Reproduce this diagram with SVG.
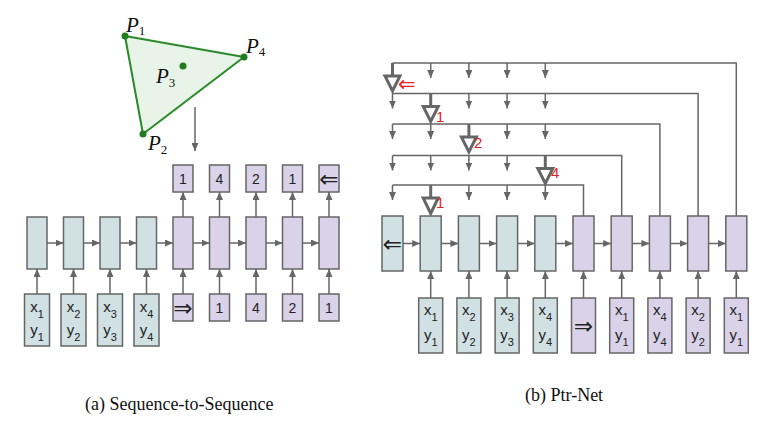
<svg xmlns="http://www.w3.org/2000/svg" width="767" height="424" viewBox="0 0 767 424">
<style>
.enc{fill:#d0e0e3;stroke:#666;stroke-width:1.5}
.dec{fill:#d9d2e9;stroke:#666;stroke-width:1.5}
.ln{stroke:#666;stroke-width:1.5;fill:none}
.arr{stroke:#666;stroke-width:1.5;fill:none;marker-end:url(#ah)}
.big{stroke:#666;stroke-width:3;fill:#fff;stroke-linejoin:miter}
.t{font-family:"Liberation Sans",Arial,sans-serif;font-size:14px;fill:#222;text-anchor:middle}
.v{font-family:"Liberation Sans",Arial,sans-serif;font-size:15px;fill:#222;text-anchor:middle}
.s{font-size:11px}
.sym{font-family:"DejaVu Sans",sans-serif;font-size:23px;fill:#222;text-anchor:middle}
.red{font-family:"Liberation Sans",Arial,sans-serif;font-size:15px;fill:#e3231f}
.redsym{font-family:"DejaVu Sans",sans-serif;font-size:21px;fill:#e3231f}
.p{font-family:"Liberation Serif","Times New Roman",serif;font-style:italic;font-size:21px;fill:#111}
.ps{font-style:normal;font-size:13px}
.cap{font-family:"Liberation Serif","Times New Roman",serif;font-size:18px;fill:#111}
</style>
<defs>
<marker id="ah" markerWidth="8" markerHeight="7" refX="8" refY="3.5" orient="auto" markerUnits="userSpaceOnUse"><path d="M0,0 L8,3.5 L0,7 Z" fill="#666"/></marker>
</defs>

<!-- (a) triangle -->
<g id="points">
<polygon points="125,36 244,57 143,134" fill="#e8f4e8" stroke="#2a8a2a" stroke-width="2" stroke-linejoin="round"/>
<circle cx="125" cy="36" r="3.5" fill="#1f7d1f"/>
<circle cx="244" cy="57" r="3.5" fill="#1f7d1f"/>
<circle cx="143" cy="134" r="3.5" fill="#1f7d1f"/>
<circle cx="183" cy="66" r="3.5" fill="#1f7d1f"/>
<text class="p" x="126" y="32">P<tspan class="ps" dy="3">1</tspan></text>
<text class="p" x="246" y="53">P<tspan class="ps" dy="3">4</tspan></text>
<text class="p" x="156" y="83">P<tspan class="ps" dy="4">3</tspan></text>
<text class="p" x="148" y="150">P<tspan class="ps" dy="4">2</tspan></text>
</g>

<!-- (a) Sequence-to-Sequence nodes -->
<g id="a-enc1"><rect class="enc" x="27" y="217" width="20" height="52"/><rect class="enc" x="24.5" y="294" width="25" height="52"/><text class="v" x="37" y="312">x<tspan class="s" dy="6">1</tspan></text><text class="v" x="37" y="335">y<tspan class="s" dy="6">1</tspan></text></g>
<g id="a-enc2"><rect class="enc" x="63.5" y="217" width="20" height="52"/><rect class="enc" x="61" y="294" width="25" height="52"/><text class="v" x="73.5" y="312">x<tspan class="s" dy="6">2</tspan></text><text class="v" x="73.5" y="335">y<tspan class="s" dy="6">2</tspan></text></g>
<g id="a-enc3"><rect class="enc" x="100" y="217" width="20" height="52"/><rect class="enc" x="97.5" y="294" width="25" height="52"/><text class="v" x="110" y="312">x<tspan class="s" dy="6">3</tspan></text><text class="v" x="110" y="335">y<tspan class="s" dy="6">3</tspan></text></g>
<g id="a-enc4"><rect class="enc" x="136.5" y="217" width="20" height="52"/><rect class="enc" x="134" y="294" width="25" height="52"/><text class="v" x="146.5" y="312">x<tspan class="s" dy="6">4</tspan></text><text class="v" x="146.5" y="335">y<tspan class="s" dy="6">4</tspan></text></g>
<g id="a-dec1"><rect class="dec" x="173" y="217" width="20" height="52"/><rect class="dec" x="173" y="294" width="20" height="27"/><text class="sym" x="183" y="315.5">⇒</text><rect class="dec" x="173" y="165" width="20" height="27"/><text class="t" x="183" y="183.5">1</text></g>
<g id="a-dec2"><rect class="dec" x="209.5" y="217" width="20" height="52"/><rect class="dec" x="209.5" y="294" width="20" height="27"/><text class="t" x="219.5" y="312.5">1</text><rect class="dec" x="209.5" y="165" width="20" height="27"/><text class="t" x="219.5" y="183.5">4</text></g>
<g id="a-dec3"><rect class="dec" x="246" y="217" width="20" height="52"/><rect class="dec" x="246" y="294" width="20" height="27"/><text class="t" x="256" y="312.5">4</text><rect class="dec" x="246" y="165" width="20" height="27"/><text class="t" x="256" y="183.5">2</text></g>
<g id="a-dec4"><rect class="dec" x="282.5" y="217" width="20" height="52"/><rect class="dec" x="282.5" y="294" width="20" height="27"/><text class="t" x="292.5" y="312.5">2</text><rect class="dec" x="282.5" y="165" width="20" height="27"/><text class="t" x="292.5" y="183.5">1</text></g>
<g id="a-dec5"><rect class="dec" x="319" y="217" width="20" height="52"/><rect class="dec" x="319" y="294" width="20" height="27"/><text class="t" x="329" y="312.5">1</text><rect class="dec" x="319" y="165" width="20" height="27"/><text class="sym" x="329" y="186.5">⇐</text></g>

<!-- (b) Ptr-Net nodes -->
<g id="b-enc0"><rect class="enc" x="382" y="216" width="21" height="55"/><text class="sym" x="392.5" y="251.5">⇐</text></g>
<g id="b-enc1"><rect class="enc" x="420.2" y="216" width="21" height="55"/><rect class="enc" x="418.7" y="298" width="24" height="55"/><text class="v" x="430.7" y="315">x<tspan class="s" dy="6">1</tspan></text><text class="v" x="430.7" y="340">y<tspan class="s" dy="6">1</tspan></text></g>
<g id="b-enc2"><rect class="enc" x="458.4" y="216" width="21" height="55"/><rect class="enc" x="456.9" y="298" width="24" height="55"/><text class="v" x="468.9" y="315">x<tspan class="s" dy="6">2</tspan></text><text class="v" x="468.9" y="340">y<tspan class="s" dy="6">2</tspan></text></g>
<g id="b-enc3"><rect class="enc" x="496.6" y="216" width="21" height="55"/><rect class="enc" x="495.1" y="298" width="24" height="55"/><text class="v" x="507.1" y="315">x<tspan class="s" dy="6">3</tspan></text><text class="v" x="507.1" y="340">y<tspan class="s" dy="6">3</tspan></text></g>
<g id="b-enc4"><rect class="enc" x="534.8" y="216" width="21" height="55"/><rect class="enc" x="533.3" y="298" width="24" height="55"/><text class="v" x="545.3" y="315">x<tspan class="s" dy="6">4</tspan></text><text class="v" x="545.3" y="340">y<tspan class="s" dy="6">4</tspan></text></g>
<g id="b-dec1"><rect class="dec" x="573" y="216" width="21" height="55"/><rect class="dec" x="571.5" y="298" width="24" height="55"/><text class="sym" x="583.5" y="334">⇒</text></g>
<g id="b-dec2"><rect class="dec" x="611.2" y="216" width="21" height="55"/><rect class="dec" x="609.7" y="298" width="24" height="55"/><text class="v" x="621.7" y="315">x<tspan class="s" dy="6">1</tspan></text><text class="v" x="621.7" y="340">y<tspan class="s" dy="6">1</tspan></text></g>
<g id="b-dec3"><rect class="dec" x="649.4" y="216" width="21" height="55"/><rect class="dec" x="647.9" y="298" width="24" height="55"/><text class="v" x="659.9" y="315">x<tspan class="s" dy="6">4</tspan></text><text class="v" x="659.9" y="340">y<tspan class="s" dy="6">4</tspan></text></g>
<g id="b-dec4"><rect class="dec" x="687.6" y="216" width="21" height="55"/><rect class="dec" x="686.1" y="298" width="24" height="55"/><text class="v" x="698.1" y="315">x<tspan class="s" dy="6">2</tspan></text><text class="v" x="698.1" y="340">y<tspan class="s" dy="6">2</tspan></text></g>
<g id="b-dec5"><rect class="dec" x="725.8" y="216" width="21" height="55"/><rect class="dec" x="724.3" y="298" width="24" height="55"/><text class="v" x="736.3" y="315">x<tspan class="s" dy="6">1</tspan></text><text class="v" x="736.3" y="340">y<tspan class="s" dy="6">1</tspan></text></g>

<g id="connectors">
<!-- (a) -->
<line class="arr" x1="195" y1="107" x2="195" y2="151"/>
<line class="arr" x1="37" y1="294" x2="37" y2="269"/>
<line class="arr" x1="73.5" y1="294" x2="73.5" y2="269"/>
<line class="arr" x1="110" y1="294" x2="110" y2="269"/>
<line class="arr" x1="146.5" y1="294" x2="146.5" y2="269"/>
<line class="arr" x1="183" y1="294" x2="183" y2="269"/>
<line class="arr" x1="219.5" y1="294" x2="219.5" y2="269"/>
<line class="arr" x1="256" y1="294" x2="256" y2="269"/>
<line class="arr" x1="292.5" y1="294" x2="292.5" y2="269"/>
<line class="arr" x1="329" y1="294" x2="329" y2="269"/>
<line class="arr" x1="183" y1="217" x2="183" y2="192"/>
<line class="arr" x1="219.5" y1="217" x2="219.5" y2="192"/>
<line class="arr" x1="256" y1="217" x2="256" y2="192"/>
<line class="arr" x1="292.5" y1="217" x2="292.5" y2="192"/>
<line class="arr" x1="329" y1="217" x2="329" y2="192"/>
<line class="arr" x1="47" y1="243" x2="63.5" y2="243"/>
<line class="arr" x1="83.5" y1="243" x2="100" y2="243"/>
<line class="arr" x1="120" y1="243" x2="136.5" y2="243"/>
<line class="arr" x1="156.5" y1="243" x2="173" y2="243"/>
<line class="arr" x1="193" y1="243" x2="209.5" y2="243"/>
<line class="arr" x1="229.5" y1="243" x2="246" y2="243"/>
<line class="arr" x1="266" y1="243" x2="282.5" y2="243"/>
<line class="arr" x1="302.5" y1="243" x2="319" y2="243"/>
<!-- (b) horizontal recurrent -->
<line class="arr" x1="403" y1="243.5" x2="420.2" y2="243.5"/>
<line class="arr" x1="441.2" y1="243.5" x2="458.4" y2="243.5"/>
<line class="arr" x1="479.4" y1="243.5" x2="496.6" y2="243.5"/>
<line class="arr" x1="517.6" y1="243.5" x2="534.8" y2="243.5"/>
<line class="arr" x1="555.8" y1="243.5" x2="573" y2="243.5"/>
<line class="arr" x1="594" y1="243.5" x2="611.2" y2="243.5"/>
<line class="arr" x1="632.2" y1="243.5" x2="649.4" y2="243.5"/>
<line class="arr" x1="670.4" y1="243.5" x2="687.6" y2="243.5"/>
<line class="arr" x1="708.6" y1="243.5" x2="725.8" y2="243.5"/>
<!-- (b) inputs -->
<line class="arr" x1="430.7" y1="298" x2="430.7" y2="271"/>
<line class="arr" x1="468.9" y1="298" x2="468.9" y2="271"/>
<line class="arr" x1="507.1" y1="298" x2="507.1" y2="271"/>
<line class="arr" x1="545.3" y1="298" x2="545.3" y2="271"/>
<line class="arr" x1="583.5" y1="298" x2="583.5" y2="271"/>
<line class="arr" x1="621.7" y1="298" x2="621.7" y2="271"/>
<line class="arr" x1="659.9" y1="298" x2="659.9" y2="271"/>
<line class="arr" x1="698.1" y1="298" x2="698.1" y2="271"/>
<line class="arr" x1="736.3" y1="298" x2="736.3" y2="271"/>
<!-- (b) attention rows -->
<path class="ln" d="M736.3,216 V63 H392.5"/>
<path class="ln" d="M698.1,216 V93.5 H392.5"/>
<path class="ln" d="M659.9,216 V124 H392.5"/>
<path class="ln" d="M621.7,216 V155.5 H392.5"/>
<path class="ln" d="M583.5,216 V185 H392.5"/>
<!-- row 1 -->
<line class="arr" x1="430.7" y1="63" x2="430.7" y2="78"/>
<line class="arr" x1="468.9" y1="63" x2="468.9" y2="78"/>
<line class="arr" x1="507.1" y1="63" x2="507.1" y2="78"/>
<line class="arr" x1="545.3" y1="63" x2="545.3" y2="78"/>
<line class="big" x1="392.5" y1="63" x2="392.5" y2="76"/>
<polygon class="big" points="385,76 400,76 392.5,91"/>
<!-- row 2 -->
<line class="arr" x1="392.5" y1="93.5" x2="392.5" y2="108.5"/>
<line class="arr" x1="468.9" y1="93.5" x2="468.9" y2="108.5"/>
<line class="arr" x1="507.1" y1="93.5" x2="507.1" y2="108.5"/>
<line class="arr" x1="545.3" y1="93.5" x2="545.3" y2="108.5"/>
<line class="big" x1="430.7" y1="93.5" x2="430.7" y2="106.5"/>
<polygon class="big" points="423.2,106.5 438.2,106.5 430.7,121.5"/>
<!-- row 3 -->
<line class="arr" x1="392.5" y1="124" x2="392.5" y2="139"/>
<line class="arr" x1="430.7" y1="124" x2="430.7" y2="139"/>
<line class="arr" x1="507.1" y1="124" x2="507.1" y2="139"/>
<line class="arr" x1="545.3" y1="124" x2="545.3" y2="139"/>
<line class="big" x1="468.9" y1="124" x2="468.9" y2="137"/>
<polygon class="big" points="461.4,137 476.4,137 468.9,152"/>
<!-- row 4 -->
<line class="arr" x1="392.5" y1="155.5" x2="392.5" y2="170.5"/>
<line class="arr" x1="430.7" y1="155.5" x2="430.7" y2="170.5"/>
<line class="arr" x1="468.9" y1="155.5" x2="468.9" y2="170.5"/>
<line class="arr" x1="507.1" y1="155.5" x2="507.1" y2="170.5"/>
<line class="big" x1="545.3" y1="155.5" x2="545.3" y2="168.5"/>
<polygon class="big" points="537.8,168.5 552.8,168.5 545.3,183.5"/>
<!-- row 5 -->
<line class="arr" x1="392.5" y1="185" x2="392.5" y2="200"/>
<line class="arr" x1="468.9" y1="185" x2="468.9" y2="200"/>
<line class="arr" x1="507.1" y1="185" x2="507.1" y2="200"/>
<line class="arr" x1="545.3" y1="185" x2="545.3" y2="200"/>
<line class="big" x1="430.7" y1="185" x2="430.7" y2="198"/>
<polygon class="big" points="423.2,198 438.2,198 430.7,213.5"/>
</g>

<g id="labels">
<text class="redsym" x="398" y="90.5">⇐</text>
<text class="red" x="436" y="121.5">1</text>
<text class="red" x="474" y="147.5">2</text>
<text class="red" x="551" y="177.5">4</text>
<text class="red" x="436" y="207.5">1</text>
<text class="cap" x="85" y="410">(a) Sequence-to-Sequence</text>
<text class="cap" x="525" y="401">(b) Ptr-Net</text>
</g>
</svg>
